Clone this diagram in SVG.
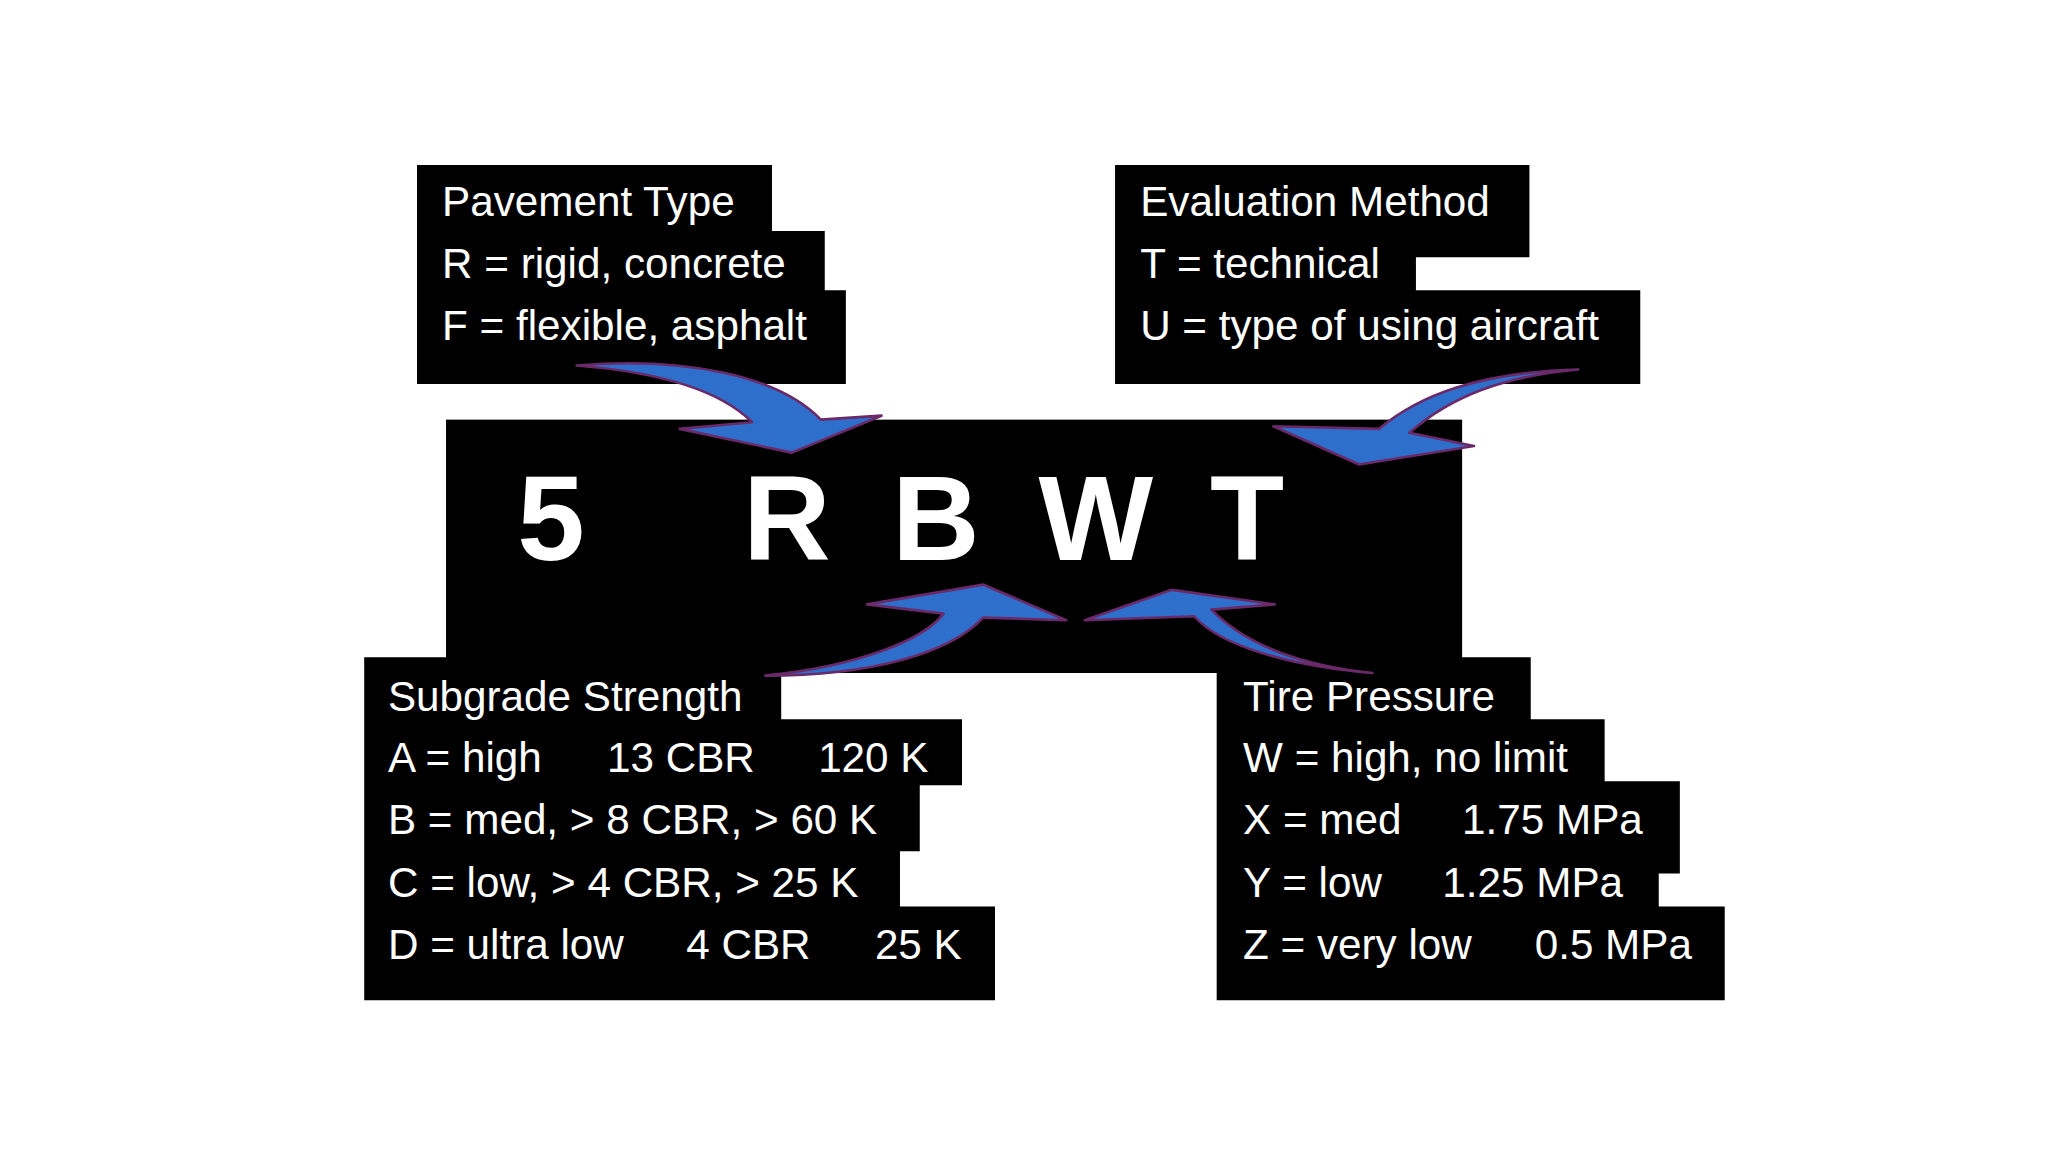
<svg xmlns="http://www.w3.org/2000/svg" width="2048" height="1152" viewBox="0 0 2048 1152">
<style>
.box{fill:#000}
.t{font-family:"Liberation Sans",Arial,sans-serif;font-size:32px;fill:#fff}
.big{font-family:"Liberation Sans",Arial,sans-serif;font-size:92px;font-weight:bold;fill:#fff}
.arr{fill:#2f6fcc;stroke:#6a2a6a;stroke-width:2;stroke-linejoin:round}
</style>
<rect width="2048" height="1152" fill="#fff"/>
<g transform="scale(1.3196)">
<g id="center">
<rect class="box" x="338" y="318" width="770" height="192"/>
<text class="big" x="392" y="424">5</text>
<text class="big" x="563" y="424">R</text>
<text class="big" x="676" y="424">B</text>
<text class="big" x="787" y="424">W</text>
<text class="big" x="917" y="424">T</text>
</g>
<g id="pavement">
<path class="box" d="M316,125H585V175H625V220H641V291H316Z"/>
<text class="t" x="335" y="164">Pavement Type</text>
<text class="t" x="335" y="211">R = rigid, concrete</text>
<text class="t" x="335" y="258">F = flexible, asphalt</text>
</g>
<g id="evaluation">
<path class="box" d="M845,125H1159V195H1073V220H1243V291H845Z"/>
<text class="t" x="864" y="164">Evaluation Method</text>
<text class="t" x="864" y="211">T = technical</text>
<text class="t" x="864" y="258">U = type of using aircraft</text>
</g>
<g id="subgrade">
<path class="box" d="M276,498H592V545H729V595H697V645H682V687H754V758H276Z"/>
<text class="t" x="294" y="539">Subgrade Strength</text>
<text class="t" x="294" y="585">A = high</text><text class="t" x="460" y="585">13 CBR</text><text class="t" x="620" y="585">120 K</text>
<text class="t" x="294" y="632">B = med, &gt; 8 CBR, &gt; 60 K</text>
<text class="t" x="294" y="680">C = low, &gt; 4 CBR, &gt; 25 K</text>
<text class="t" x="294" y="727">D = ultra low</text><text class="t" x="520" y="727">4 CBR</text><text class="t" x="663" y="727">25 K</text>
</g>
<g id="tire">
<path class="box" d="M922,498H1160V545H1216V592H1273V662H1257V687H1307V758H922Z"/>
<text class="t" x="942" y="539">Tire Pressure</text>
<text class="t" x="942" y="585">W = high, no limit</text>
<text class="t" x="942" y="632">X = med</text><text class="t" x="1108" y="632">1.75 MPa</text>
<text class="t" x="942" y="680">Y = low</text><text class="t" x="1093" y="680">1.25 MPa</text>
<text class="t" x="942" y="727">Z = very low</text><text class="t" x="1163" y="727">0.5 MPa</text>
</g>
<g id="connectors">
<path class="arr" d="M437,277 C520,270 590,285 622,318 L668,315 L600,343 L515,325 L570,320 C545,295 500,282 437,277 Z"/>
<path class="arr" d="M1196,280 C1120,282 1075,300 1045,325 L965,323 L1030,352 L1117,338 L1068,328 C1100,300 1140,285 1196,280 Z"/>
<path class="arr" d="M580,512 C650,505 700,485 715,465 L657,458 L745,443 L808,470 L745,468 C720,495 660,512 580,512 Z"/>
<path class="arr" d="M1040,510 C980,505 925,490 905,467 L822,470 L888,447 L966,458 L918,462 C945,490 990,505 1040,510 Z"/>
</g>
</g>
</svg>
